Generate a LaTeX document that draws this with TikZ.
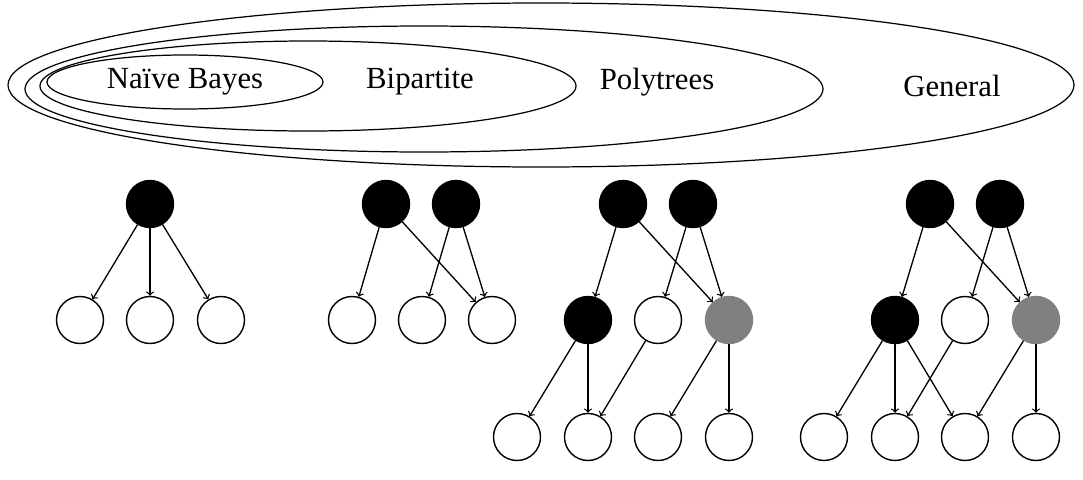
\documentclass[tikz,border=0pt]{standalone}
\usepackage{fontspec}
\setmainfont{Liberation Serif}
\begin{document}
\begin{tikzpicture}[x=0.02cm,y=-0.02cm,
  v/.style={circle,draw,line width=0.8pt,minimum size=0.94cm,inner sep=0pt},
  bl/.style={v,fill=black},
  gr/.style={v,fill=gray,draw=gray},
  e/.style={->,>=to,line width=0.75pt},
  lab/.style={font=\fontsize{17.5}{19}\selectfont}]
\useasboundingbox (0,0) rectangle (1083,480);
\draw[line width=0.7pt] (541,85) ellipse [x radius=533, y radius=82];
\draw[line width=0.7pt] (424,89) ellipse [x radius=399, y radius=63];
\draw[line width=0.7pt] (308,86) ellipse [x radius=268, y radius=45];
\draw[line width=0.7pt] (185,82) ellipse [x radius=138, y radius=27];
\node[lab] (tn) at (185,82) {Naïve Bayes};
\node[lab] (tb) at (420,82) {Bipartite};
\node[lab] (tp) at (657,82) {Polytrees};
\node[lab] (tg) at (952,86) {General};
% naive
\node[bl] (n0) at (150,204) {};
\node[v] (n1) at (80,320) {};
\node[v] (n2) at (150,320) {};
\node[v] (n3) at (221,320) {};
\foreach \i in {1,2,3} \draw[e] (n0) -- (n\i);
% bipartite
\node[bl] (b0) at (386,204) {};
\node[bl] (b9) at (456,204) {};
\node[v] (b1) at (352,320) {};
\node[v] (b2) at (422,320) {};
\node[v] (b3) at (492,320) {};
\draw[e] (b0) -- (b1); \draw[e] (b0) -- (b3);
\draw[e] (b9) -- (b2); \draw[e] (b9) -- (b3);
% polytree
\node[bl] (p0) at (623,204) {};
\node[bl] (p9) at (693,204) {};
\node[bl] (pm1) at (588,320) {};
\node[v] (pm2) at (658,320) {};
\node[gr] (pm3) at (729,320) {};
\node[v] (pb1) at (517,437) {};
\node[v] (pb2) at (588,437) {};
\node[v] (pb3) at (658,437) {};
\node[v] (pb4) at (729,437) {};
\draw[e] (p0) -- (pm1); \draw[e] (p0) -- (pm3);
\draw[e] (p9) -- (pm2); \draw[e] (p9) -- (pm3);
\draw[e] (pm1) -- (pb1); \draw[e] (pm1) -- (pb2);
\draw[e] (pm2) -- (pb2); \draw[e] (pm3) -- (pb3); \draw[e] (pm3) -- (pb4);
% general
\node[bl] (g0) at (930,204) {};
\node[bl] (g9) at (1000,204) {};
\node[bl] (gm1) at (895,320) {};
\node[v] (gm2) at (965,320) {};
\node[gr] (gm3) at (1036,320) {};
\node[v] (gb1) at (824,437) {};
\node[v] (gb2) at (895,437) {};
\node[v] (gb3) at (965,437) {};
\node[v] (gb4) at (1036,437) {};
\draw[e] (g0) -- (gm1); \draw[e] (g0) -- (gm3);
\draw[e] (g9) -- (gm2); \draw[e] (g9) -- (gm3);
\draw[e] (gm1) -- (gb1); \draw[e] (gm1) -- (gb2); \draw[e] (gm1) -- (gb3);
\draw[e] (gm2) -- (gb2); \draw[e] (gm3) -- (gb3); \draw[e] (gm3) -- (gb4);
\end{tikzpicture}
\end{document}
